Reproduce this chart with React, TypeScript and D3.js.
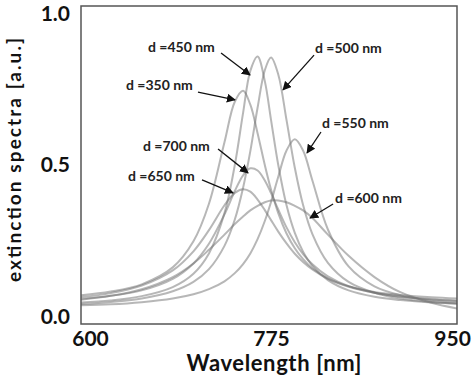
import { useEffect, useRef } from "react";
import * as d3 from "d3";

// wavelength grid (nm) shared by all spectra
const wavelengths = [591, 620, 650, 680, 700, 715, 730, 740, 748, 755, 762, 769, 775, 782, 790, 798, 806, 815, 830, 850, 875, 900, 930, 955];

const d350 = [0.070, 0.082, 0.106, 0.162, 0.248, 0.372, 0.575, 0.709, 0.745, 0.699, 0.605, 0.500, 0.419, 0.341, 0.274, 0.225, 0.189, 0.159, 0.126, 0.100, 0.081, 0.071, 0.063, 0.059];
const d450 = [0.046, 0.053, 0.067, 0.097, 0.141, 0.208, 0.341, 0.500, 0.672, 0.811, 0.858, 0.777, 0.649, 0.500, 0.367, 0.276, 0.214, 0.167, 0.120, 0.086, 0.065, 0.054, 0.046, 0.043];
const d500 = [0.041, 0.048, 0.059, 0.083, 0.114, 0.156, 0.233, 0.320, 0.425, 0.546, 0.689, 0.813, 0.855, 0.799, 0.648, 0.491, 0.368, 0.272, 0.177, 0.114, 0.078, 0.059, 0.048, 0.042];
const d550 = [0.037, 0.040, 0.047, 0.059, 0.073, 0.090, 0.116, 0.143, 0.173, 0.208, 0.255, 0.315, 0.378, 0.461, 0.548, 0.585, 0.548, 0.449, 0.287, 0.165, 0.099, 0.070, 0.052, 0.045];
const d600 = [0.055, 0.068, 0.090, 0.130, 0.175, 0.220, 0.270, 0.305, 0.330, 0.350, 0.365, 0.377, 0.383, 0.383, 0.377, 0.365, 0.350, 0.325, 0.270, 0.200, 0.130, 0.080, 0.045, 0.026];
const d650 = [0.064, 0.077, 0.102, 0.152, 0.215, 0.285, 0.367, 0.408, 0.420, 0.412, 0.386, 0.351, 0.318, 0.280, 0.241, 0.207, 0.180, 0.155, 0.124, 0.098, 0.078, 0.066, 0.057, 0.052];
const d700 = [0.058, 0.068, 0.086, 0.124, 0.175, 0.240, 0.337, 0.414, 0.466, 0.489, 0.482, 0.449, 0.407, 0.353, 0.294, 0.245, 0.206, 0.172, 0.132, 0.100, 0.078, 0.065, 0.056, 0.051];

const seriesValues = [d350, d450, d500, d550, d600, d650, d700];

// annotation labels: text anchor and arrow (data coordinates)
const labelNames = ["d =450 nm", "d =500 nm", "d =350 nm", "d =550 nm", "d =700 nm", "d =650 nm", "d =600 nm"];
const labelPos: [number, number][] = [[656, 0.873], [817.5, 0.870], [634.8, 0.748], [824.3, 0.622], [651.2, 0.546], [636.7, 0.447], [836.9, 0.375]];
const arrowFrom: [number, number][] = [[726.7, 0.870], [816.6, 0.863], [704.4, 0.741], [823.3, 0.609], [723.8, 0.553], [708.3, 0.451], [835, 0.371]];
const arrowTo: [number, number][] = [[754.7, 0.797], [786.6, 0.748], [740.2, 0.715], [809.8, 0.540], [752.8, 0.474], [738.3, 0.408], [812.7, 0.325]];

const xTicks = [600, 775, 950];
const yTicks = [0, 0.5, 1.0];

export default function App() {
  const svgRef = useRef<SVGSVGElement>(null);

  useEffect(() => {
    if (!svgRef.current) return;
    const svg = d3.select(svgRef.current);
    svg.selectAll("*").remove();

    const x = d3.scaleLinear().domain([591.3, 954.8]).range([81, 457]);
    const y = d3.scaleLinear().domain([-0.025, 1.025]).range([324, 6]);

    const font = "Lato, 'Open Sans', sans-serif";

    const defs = svg.append("defs");
    defs.append("clipPath").attr("id", "plot-clip")
      .append("rect")
      .attr("x", x.range()[0]).attr("y", y.range()[1])
      .attr("width", x.range()[1] - x.range()[0])
      .attr("height", y.range()[0] - y.range()[1]);

    defs.append("marker")
      .attr("id", "arrowhead")
      .attr("viewBox", "0 0 10 10")
      .attr("refX", 9).attr("refY", 5)
      .attr("markerWidth", 9).attr("markerHeight", 9)
      .attr("markerUnits", "userSpaceOnUse")
      .attr("orient", "auto")
      .append("path")
      .attr("d", "M0,0 L10,5 L0,10 z")
      .attr("fill", "#111");

    // spectra
    const line = d3.line<number>()
      .x((_, i) => x(wavelengths[i]))
      .y(d => y(d))
      .curve(d3.curveCatmullRom.alpha(0.5));

    svg.append("g")
      .attr("clip-path", "url(#plot-clip)")
      .selectAll("path")
      .data(seriesValues)
      .enter()
      .append("path")
      .attr("d", d => line(d))
      .attr("fill", "none")
      .attr("stroke", "#707070")
      .attr("stroke-width", 2)
      .attr("stroke-opacity", 0.5);

    // frame
    svg.append("rect")
      .attr("x", x.range()[0]).attr("y", y.range()[1])
      .attr("width", x.range()[1] - x.range()[0])
      .attr("height", y.range()[0] - y.range()[1])
      .attr("fill", "none")
      .attr("stroke", "#555")
      .attr("stroke-width", 1.5);

    // axes (labels only)
    svg.append("g")
      .attr("transform", `translate(0,${y.range()[0]})`)
      .call(d3.axisBottom(x).tickValues(xTicks).tickSize(0).tickPadding(7).tickFormat(d3.format("d")))
      .call(g => g.select(".domain").remove())
      .call(g => g.selectAll(".tick text")
        .attr("fill", "#111").attr("font-size", "21px")
        .attr("font-weight", "bold").attr("font-family", font));

    svg.append("g")
      .attr("transform", `translate(${x.range()[0]},0)`)
      .call(d3.axisLeft(y).tickValues(yTicks).tickSize(0).tickPadding(11).tickFormat(d3.format(".1f")))
      .call(g => g.select(".domain").remove())
      .call(g => g.selectAll(".tick text")
        .attr("fill", "#111").attr("font-size", "21px")
        .attr("font-weight", "bold").attr("font-family", font));

    // axis titles
    svg.append("text")
      .attr("x", 274).attr("y", 371)
      .attr("text-anchor", "middle")
      .attr("font-family", font).attr("font-weight", "bold")
      .attr("font-size", "22px").attr("fill", "#111")
      .attr("textLength", 175).attr("lengthAdjust", "spacing")
      .text("Wavelength [nm]");

    svg.append("text")
      .attr("transform", "translate(21,160) rotate(-90)")
      .attr("text-anchor", "middle")
      .attr("font-family", font).attr("font-weight", "bold")
      .attr("font-size", "19px").attr("fill", "#111")
      .attr("textLength", 244).attr("lengthAdjust", "spacing")
      .text("extinction spectra [a.u.]");

    // annotations
    const ann = svg.append("g");
    labelNames.forEach((name, i) => {
      ann.append("text")
        .attr("x", x(labelPos[i][0])).attr("y", y(labelPos[i][1]))
        .attr("font-family", font).attr("font-weight", "bold")
        .attr("font-size", "14px").attr("fill", "#222")
        .text(name);
      ann.append("line")
        .attr("x1", x(arrowFrom[i][0])).attr("y1", y(arrowFrom[i][1]))
        .attr("x2", x(arrowTo[i][0])).attr("y2", y(arrowTo[i][1]))
        .attr("stroke", "#111").attr("stroke-width", 1.3)
        .attr("marker-end", "url(#arrowhead)");
    });
  }, []);

  return (
    <svg
      ref={svgRef}
      width={474}
      height={384}
      style={{ position: "absolute", left: 0, top: 0, background: "#fff" }}
    />
  );
}
